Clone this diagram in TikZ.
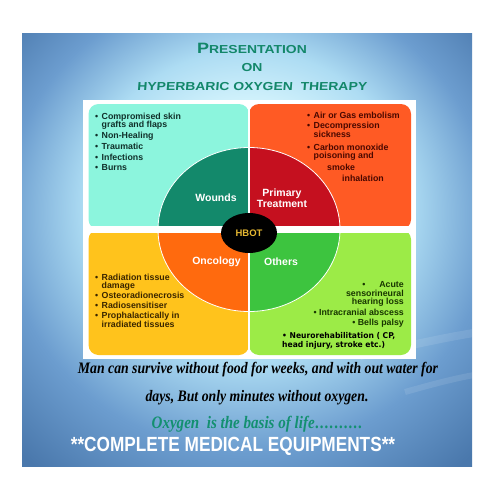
\documentclass[tikz,border=0pt]{standalone}
\usepackage{fontspec}
\usetikzlibrary{shapes.geometric}
\setmainfont{Liberation Sans}
\newfontfamily\titlefont{Liberation Sans}[FakeStretch=1.2]
\newfontfamily\titlefontsl{Liberation Sans}[FakeStretch=1.2,FakeSlant=0.08]
\newfontfamily\quotefont{Liberation Serif}[FakeStretch=0.86]
\newfontfamily\narrowfont{Liberation Sans}[FakeStretch=0.84]
\newfontfamily\neurofont{DejaVu Sans}[FakeStretch=0.95]
\definecolor{panelout}{HTML}{4A78AC}
\definecolor{panelmid}{HTML}{6C9DCF}
\definecolor{panellight}{HTML}{ADDCF3}
\definecolor{panelin}{HTML}{D6F5FD}
\definecolor{titlegreen}{HTML}{13876A}
\definecolor{tlbox}{HTML}{8CF5DD}
\definecolor{wound}{HTML}{13896B}
\definecolor{trbox}{HTML}{FF5A24}
\definecolor{primary}{HTML}{C5101F}
\definecolor{blbox}{HTML}{FFC31C}
\definecolor{onco}{HTML}{FF6A0E}
\definecolor{brbox}{HTML}{9CEB47}
\definecolor{others}{HTML}{3DC43F}
\definecolor{hbot}{HTML}{E6B832}
\definecolor{tltext}{HTML}{10302A}
\definecolor{trtext}{HTML}{4A0800}
\definecolor{bltext}{HTML}{3A2600}
\definecolor{brtext}{HTML}{183600}
\definecolor{oxygreen}{HTML}{139070}
\pgfdeclareradialshading{panelshade}{\pgfpoint{0bp}{8bp}}{color(0bp)=(panelin); color(10bp)=(panelin); color(18bp)=(panellight); color(27bp)=(panelmid); color(36bp)=(panelout); color(50bp)=(panelout)}
\newcommand\bl{\makebox[6.5pt][l]{\textbullet}}
\newcommand\ind{\hspace*{6.5pt}}
\begin{document}
\begin{tikzpicture}[x=1pt,y=-1pt,
  quad/.style={rounded corners=10pt},
  lbl/.style={text=white,font=\bfseries\fontsize{10.5}{10.5}\selectfont,align=center,inner sep=0},
  list/.style={inner sep=0,font=\bfseries\fontsize{8.8}{8.6}\selectfont,align=left,anchor=north west},
  ttl/.style={text=titlegreen,inner sep=0},
  swoosh/.style={white,opacity=0.1,line width=8pt}]
\useasboundingbox (0,0) rectangle (495,495);
\fill[white] (0,0) rectangle (495,495);
\shade[shading=panelshade] (22,34) rectangle (472,466);
\begin{scope}
\clip (22,34) rectangle (472,466);
\draw[swoosh] (360,356) .. controls (400,348) and (440,338) .. (480,332);
\draw[swoosh,line width=6pt] (405,392) .. controls (430,385) and (455,378) .. (480,374);
\end{scope}
\fill[white] (83,100) rectangle (416,359);
% quadrant boxes
\fill[tlbox,quad] (88.5,104) rectangle (249,229.5);
\fill[trbox,quad] (249,104) rectangle (411,229.5);
\fill[blbox,quad] (88.5,229.5) rectangle (249,355);
\fill[brbox,quad] (249,229.5) rectangle (411,355);
% ellipse sectors
\begin{scope}\clip (83,100) rectangle (249,229.5);
\fill[wound] (249,229.5) ellipse[x radius=91,y radius=82];\end{scope}
\begin{scope}\clip (249,100) rectangle (416,229.5);
\fill[primary] (249,229.5) ellipse[x radius=91,y radius=82];\end{scope}
\begin{scope}\clip (83,229.5) rectangle (249,359);
\fill[onco] (249,229.5) ellipse[x radius=91,y radius=82];\end{scope}
\begin{scope}\clip (249,229.5) rectangle (416,359);
\fill[others] (249,229.5) ellipse[x radius=91,y radius=82];\end{scope}
\draw[white,line width=0.8pt] (249,229.5) ellipse[x radius=91,y radius=82];
% white separators
\fill[white] (247.7,100) rectangle (250.3,359);
\fill[white] (83,226) rectangle (416,233);
% HBOT
\node[ellipse,fill=black,minimum width=56pt,minimum height=40pt,inner sep=0] (hbot) at (249,233) {};
\node[text=hbot,font=\bfseries\fontsize{9.5}{9.5}\selectfont,inner sep=0] (hbott) at (249,233) {HBOT};
% title
\node[ttl] (t1) at (252,48) {\titlefont\bfseries{\fontsize{15}{15}\selectfont P}{\fontsize{11.6}{11.6}\selectfont RESENTATION}};
\node[ttl] (t2) at (252,68) {\titlefont\bfseries\fontsize{11.6}{11.6}\selectfont ON};
\node[ttl] (t3) at (252,87) {\titlefontsl\bfseries\fontsize{11.6}{11.6}\selectfont HYPERBARIC OXYGEN\ \ THERAPY};
% sector labels
\node[lbl] (wounds) at (216,198) {Wounds};
\node[lbl] (primary) at (282,198) {Primary\\Treatment};
\node[lbl] (oncology) at (216.5,262) {Oncology};
\node[lbl] (others) at (281,262) {Others};
% lists
\node[list,text=tltext] (tl) at (95,112.5) {\bl Compromised skin\\\ind grafts and flaps\\[2.2pt]\bl Non-Healing\\[2.2pt]\bl Traumatic\\[2.2pt]\bl Infections\\[2.2pt]\bl Burns};
\node[list,text=trtext] (tr) at (307,112) {\bl Air or Gas embolism\\[1.5pt]\bl Decompression\\\ind sickness\\[4.5pt]\bl Carbon monoxide\\\ind poisoning and\\[2.5pt]\hspace*{20pt}smoke\\[2.5pt]\hspace*{35pt}inhalation};
\node[list,text=bltext] (bll) at (95,273.5) {\bl Radiation tissue\\\ind damage\\[1.5pt]\bl Osteoradionecrosis\\[1.5pt]\bl Radiosensitiser\\[1.5pt]\bl Prophalactically in\\\ind irradiated tissues};
\node[list,text=brtext,anchor=north east,align=right] (brl) at (404,281.5) {\textbullet\hspace*{14pt}Acute\\sensorineural\\hearing loss\\[1.5pt]\textbullet\ Intracranial abscess\\[1.5pt]\textbullet\ Bells palsy};
\node[inner sep=0,anchor=north west,align=left,text=black,font=\neurofont\bfseries\fontsize{8}{9.5}\selectfont] (neuro) at (282,332) {\textbullet\ Neurorehabilitation ( CP,\\head injury, stroke etc.)};
% quotes
\node[inner sep=0,font=\quotefont\bfseries\itshape\fontsize{16}{16}\selectfont] (q1) at (258,370) {Man can survive without food for weeks, and with out water for};
\node[inner sep=0,font=\quotefont\bfseries\itshape\fontsize{16}{16}\selectfont] (q2) at (257,398) {days, But only minutes without oxygen.};
\node[inner sep=0,text=oxygreen,font=\quotefont\bfseries\itshape\fontsize{17.5}{17.5}\selectfont] (q3) at (257,424) {Oxygen\ \ is the basis of life\kern1pt.\kern1pt.\kern1pt.\kern1pt.\kern1pt.\kern1pt.\kern1pt.\kern1pt.\kern1pt.\kern1pt.};
\node[inner sep=0,text=white,font=\narrowfont\bfseries\fontsize{20.5}{20.5}\selectfont] (q4) at (233,446) {**COMPLETE MEDICAL EQUIPMENTS**};
\end{tikzpicture}
\end{document}
